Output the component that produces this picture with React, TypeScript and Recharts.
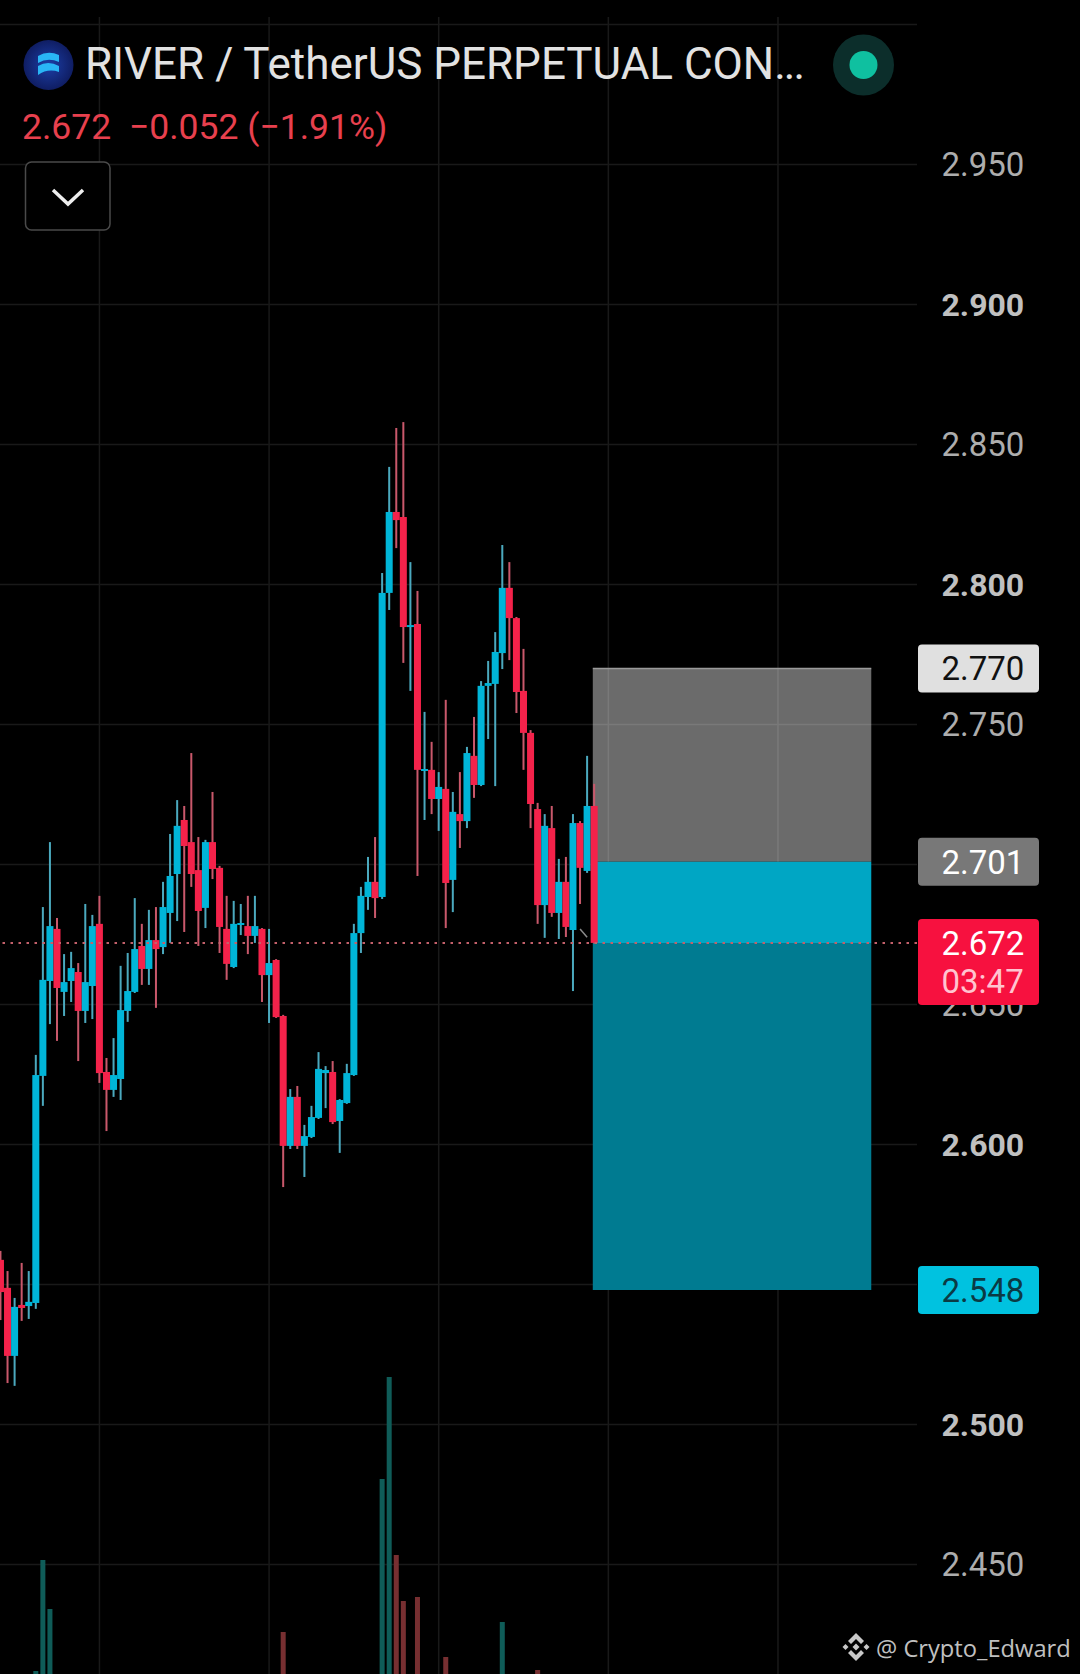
import { Bar, CartesianGrid, ComposedChart, ReferenceArea, ReferenceLine, XAxis, YAxis } from "recharts";

// candle prices, oldest first
const opens = [
  2.5588, 2.5488, 2.5245, 2.5427, 2.5423, 2.5434, 2.6245, 2.6584, 2.6770, 2.6545,
  2.6584, 2.6616, 2.6477, 2.6566, 2.6788, 2.6259, 2.6195, 2.6234, 2.6477, 2.6545,
  2.6709, 2.6627, 2.6730, 2.6705, 2.6827, 2.6966, 2.7159, 2.7080, 2.6980, 2.6845,
  2.7080, 2.6988, 2.6770, 2.6634, 2.6784, 2.6780, 2.6745, 2.6770, 2.6605, 2.6659,
  2.6459, 2.5995, 2.6170, 2.5995, 2.6027, 2.6095, 2.6255, 2.6259, 2.6084, 2.6148,
  2.6248, 2.6755, 2.6884, 2.6938, 2.6884, 2.7970, 2.8259, 2.8241, 2.7848, 2.7859,
  2.7334, 2.7338, 2.7234, 2.7270, 2.6945, 2.7180, 2.7155, 2.7388, 2.7284, 2.7638,
  2.7645, 2.7755, 2.7988, 2.7880, 2.7620, 2.7470, 2.7198, 2.6855, 2.7130, 2.6827,
  2.6938, 2.6766, 2.7148, 2.6977, 2.7209,
];
const closes = [
  2.5473, 2.5245, 2.5420, 2.5416, 2.5438, 2.6248, 2.6588, 2.6780, 2.6559, 2.6580,
  2.6630, 2.6477, 2.6580, 2.6780, 2.6255, 2.6195, 2.6248, 2.6480, 2.6548, 2.6698,
  2.6627, 2.6730, 2.6698, 2.6848, 2.6959, 2.7138, 2.7066, 2.6966, 2.6834, 2.7080,
  2.6984, 2.6777, 2.6645, 2.6788, 2.6791, 2.6745, 2.6780, 2.6605, 2.6648, 2.6455,
  2.5995, 2.6170, 2.5995, 2.6030, 2.6098, 2.6270, 2.6266, 2.6080, 2.6159, 2.6255,
  2.6755, 2.6888, 2.6938, 2.6880, 2.7970, 2.8259, 2.8230, 2.7848, 2.7855, 2.7338,
  2.7341, 2.7234, 2.7277, 2.6934, 2.7188, 2.7155, 2.7398, 2.7284, 2.7638, 2.7648,
  2.7759, 2.7988, 2.7880, 2.7616, 2.7470, 2.7216, 2.6855, 2.7138, 2.6827, 2.6938,
  2.6777, 2.7148, 2.6988, 2.7209, 2.6720,
];
const highs = [
  2.5620, 2.5548, 2.5452, 2.5577, 2.5548, 2.6320, 2.6848, 2.7080, 2.6809, 2.6680,
  2.6688, 2.6648, 2.6859, 2.6820, 2.6888, 2.6309, 2.6380, 2.6638, 2.6684, 2.6880,
  2.6788, 2.6838, 2.6848, 2.6938, 2.7109, 2.7230, 2.7209, 2.7398, 2.7098, 2.7088,
  2.7259, 2.6995, 2.6888, 2.6870, 2.6859, 2.6888, 2.6888, 2.6773, 2.6770, 2.6662,
  2.6463, 2.6198, 2.6209, 2.6070, 2.6138, 2.6330, 2.6280, 2.6298, 2.6162, 2.6288,
  2.6788, 2.6920, 2.7027, 2.7098, 2.8041, 2.8420, 2.8559, 2.8580, 2.8080, 2.7977,
  2.7545, 2.7438, 2.7330, 2.7588, 2.7259, 2.7330, 2.7420, 2.7527, 2.7655, 2.7727,
  2.7830, 2.8141, 2.8080, 2.7884, 2.7770, 2.7480, 2.7220, 2.7180, 2.7209, 2.7020,
  2.7027, 2.7180, 2.7155, 2.7388, 2.7288,
];
const lows = [
  2.5373, 2.5148, 2.5138, 2.5370, 2.5377, 2.5413, 2.6138, 2.6430, 2.6370, 2.6459,
  2.6509, 2.6298, 2.6434, 2.6448, 2.6220, 2.6048, 2.6170, 2.6159, 2.6438, 2.6541,
  2.6570, 2.6570, 2.6488, 2.6680, 2.6720, 2.6798, 2.6759, 2.6920, 2.6709, 2.6773,
  2.6948, 2.6684, 2.6588, 2.6630, 2.6748, 2.6680, 2.6720, 2.6509, 2.6434, 2.6452,
  2.5848, 2.5984, 2.5984, 2.5884, 2.6023, 2.6091, 2.6130, 2.6073, 2.5970, 2.6145,
  2.6245, 2.6684, 2.6838, 2.6809, 2.6877, 2.7909, 2.8130, 2.7720, 2.7620, 2.6959,
  2.7159, 2.7180, 2.7120, 2.6773, 2.6830, 2.7059, 2.7130, 2.7238, 2.7280, 2.7448,
  2.7280, 2.7698, 2.7730, 2.7541, 2.7338, 2.7130, 2.6788, 2.6738, 2.6813, 2.6734,
  2.6741, 2.6548, 2.6859, 2.6970, 2.6718,
];
// only the visible tops of the volume bars can be read
const volumes: Record<number, number> = {
  5: 3, 6: 114, 7: 65, 40: 42, 54: 195, 55: 297, 56: 119, 57: 73, 59: 77, 63: 17, 71: 52, 76: 4,
};

const priceTicks = [3, 2.95, 2.9, 2.85, 2.8, 2.75, 2.7, 2.65, 2.6, 2.55, 2.5, 2.45];
const boldTicks = [2.9, 2.8, 2.6, 2.5];
// 2.700 and 2.550 sit fully behind the price tags
const hiddenTickLabels = [3, 2.7, 2.55];
const timeGrid = [14, 38, 62, 86, 110];
const priceDomain = [2.41089, 3.00875];
const timeDomain = [-0.07, 129.67];

const lastPrice = 2.672;
const stopPrice = 2.77;
const entryPrice = 2.701;
const targetPrice = 2.548;
const toolStart = 83.8;
const toolEnd = 123.2;

const candles = opens.map((open, i) => ({
  i,
  open,
  close: closes[i],
  high: highs[i],
  low: lows[i],
  volume: volumes[i] ?? 0,
}));

const UP = "#00b5d8";
const DOWN = "#f4224a";
const FONT = "Roboto, sans-serif";

function Candle(props: any) {
  const { x, y, width, height, payload } = props;
  const perUnit = height / (payload.high - payload.low);
  const up = payload.close >= payload.open;
  const bodyTop = y + (payload.high - Math.max(payload.open, payload.close)) * perUnit;
  const bodyBottom = y + (payload.high - Math.min(payload.open, payload.close)) * perUnit;
  const cx = x + width / 2;
  return (
    <g>
      <rect x={cx - 1} y={y} width={2} height={height} fill={up ? "#4ba9be" : "#c9586b"} />
      <rect x={cx - 3.5} y={bodyTop} width={7} height={Math.max(bodyBottom - bodyTop, 1.5)} fill={up ? UP : DOWN} />
    </g>
  );
}

function VolumeBar(props: any) {
  const { x, y, width, height, payload } = props;
  if (!payload.volume) return null;
  const up = payload.close >= payload.open;
  return <rect x={x} y={y} width={width} height={height} fill={up ? "#0f5c58" : "#772f31"} />;
}

function PriceTick(props: any) {
  const { x, y, payload } = props;
  if (hiddenTickLabels.includes(payload.value)) return null;
  const bold = boldTicks.includes(payload.value);
  return (
    <text x={x + 24.5} y={y + 11.9} fontFamily={FONT} fontSize={bold ? 32 : 33} fontWeight={bold ? 700 : 400} fill={bold ? "#c0c0c0" : "#adadad"}>
      {payload.value.toFixed(3)}
    </text>
  );
}

function PriceTag(props: any) {
  const { x1, x2, y2, fill, color, label, below, belowColor } = props;
  const right = Math.max(x1, x2);
  const bottom = below ? 62 : 24;
  return (
    <g>
      <rect x={right + 1} y={y2 - 24} width={121} height={24 + bottom} rx={4} fill={fill} />
      <text x={right + 24.5} y={y2 + 11.9} fontFamily={FONT} fontSize={33} fill={color}>{label}</text>
      {below && (
        <text x={right + 24.5} y={y2 + 49.9} fontFamily={FONT} fontSize={33} fill={belowColor}>{below}</text>
      )}
    </g>
  );
}

function Header() {
  return (
    <svg width={1080} height={1674} style={{ position: "absolute", left: 0, top: 0, pointerEvents: "none" }}>
      <defs>
        <radialGradient id="riverBg" cx="50%" cy="50%" r="55%">
          <stop offset="0%" stopColor="#1c3fa8" />
          <stop offset="100%" stopColor="#0e1a5c" />
        </radialGradient>
      </defs>
      <rect x={0} y={0} width={1080} height={17} fill="#000" />
      <circle cx={48.5} cy={65} r={25} fill="url(#riverBg)" />
      <path d="M38 56 Q48 50 59 55 L59 62 Q48 57 38 63 Z" fill="#29b6f6" />
      <path d="M38 66 Q48 60 59 66 L59 72 Q48 68 38 75 Z" fill="#29b6f6" />
      <text x={85} y={79} fontFamily={FONT} fontSize={44} fill="#e2e2e2">
        RIVER / TetherUS PERPETUAL CON<tspan letterSpacing={-2}>...</tspan>
      </text>
      <circle cx={863.5} cy={65} r={30.5} fill="#0c2e2b" />
      <circle cx={863.5} cy={65} r={14} fill="#0fc0a0" />
      <text x={22} y={139} fontFamily={FONT} fontSize={35.5} fill="#e8404e">2.672</text>
      <text x={129} y={139} fontFamily={FONT} fontSize={35.5} fill="#e8404e">−0.052 (−1.91%)</text>
      <rect x={25.5} y={162} width={84.5} height={68} rx={6} fill="#000" stroke="#4a4a4a" strokeWidth={1.5} />
      <polyline points="53,190 68,204 83,190" fill="none" stroke="#eee" strokeWidth={3.5} />
      <g fill="#c9c9c9" transform="translate(856 1647)">
        <path d="M0 -14 L8 -6 L5 -3 L0 -8 L-5 -3 L-8 -6 Z" />
        <path d="M0 14 L8 6 L5 3 L0 8 L-5 3 L-8 6 Z" />
        <path d="M0 -3.5 L3.5 0 L0 3.5 L-3.5 0 Z" />
        <path d="M-10.5 -3 L-7.5 0 L-10.5 3 L-13.5 0 Z" />
        <path d="M10.5 -3 L13.5 0 L10.5 3 L7.5 0 Z" />
      </g>
      <text x={876} y={1657} fontFamily="'Open Sans', sans-serif" fontSize={23.7} fill="#c0c0c0">@ Crypto_Edward</text>
    </svg>
  );
}

// second chart on the same scales, so the tags can lie over the axis labels
function PriceTags() {
  return (
    <div style={{ position: "absolute", left: 0, top: 0 }}>
      <ComposedChart width={1080} height={1674} data={candles} margin={{ top: 0, right: 0, bottom: 0, left: 0 }}>
        <XAxis xAxisId="time" dataKey="i" type="number" domain={timeDomain} allowDataOverflow hide />
        <YAxis yAxisId="price" orientation="right" width={163} domain={priceDomain} allowDataOverflow axisLine={false} tickLine={false} tick={false} />
        <ReferenceLine xAxisId="time" yAxisId="price" y={stopPrice} stroke="none"
          shape={(p: any) => <PriceTag {...p} fill="#e0e0e0" color="#111" label="2.770" />} />
        <ReferenceLine xAxisId="time" yAxisId="price" y={entryPrice} stroke="none"
          shape={(p: any) => <PriceTag {...p} fill="#787878" color="#fff" label="2.701" />} />
        <ReferenceLine xAxisId="time" yAxisId="price" y={targetPrice} stroke="none"
          shape={(p: any) => <PriceTag {...p} fill="#00c2e0" color="#0b3a44" label="2.548" />} />
        <ReferenceLine xAxisId="time" yAxisId="price" y={lastPrice} stroke="none"
          shape={(p: any) => <PriceTag {...p} fill="#f7113f" color="#fff" label="2.672" below="03:47" belowColor="#ffc4d0" />} />
      </ComposedChart>
    </div>
  );
}

export default function App() {
  return (
    <div style={{ position: "absolute", left: 0, top: 0, width: 1080, height: 1674, background: "#000", overflow: "hidden" }}>
      <ComposedChart width={1080} height={1674} data={candles} margin={{ top: 0, right: 0, bottom: 0, left: 0 }}>
        <XAxis xAxisId="time" dataKey="i" type="number" domain={timeDomain} ticks={timeGrid} allowDataOverflow hide />
        <XAxis xAxisId="vol" dataKey="i" type="number" domain={timeDomain} allowDataOverflow hide />
        <YAxis
          yAxisId="price"
          orientation="right"
          width={163}
          domain={priceDomain}
          allowDataOverflow
          ticks={priceTicks}
          interval={0}
          axisLine={false}
          tickLine={false}
          tickSize={0}
          tickMargin={0}
          tick={<PriceTick />}
        />
        <YAxis yAxisId="vol" domain={[0, 1674]} hide />
        <CartesianGrid xAxisId="time" yAxisId="price" stroke="#191919" strokeWidth={1.5} syncWithTicks />
        <ReferenceArea xAxisId="time" yAxisId="price" x1={toolStart} x2={toolEnd} y1={stopPrice} y2={entryPrice} fill="#ffffff" fillOpacity={0.42} stroke="none" />
        <ReferenceArea xAxisId="time" yAxisId="price" x1={toolStart} x2={toolEnd} y1={entryPrice} y2={lastPrice} fill="#00a6c4" fillOpacity={1} stroke="none" />
        <ReferenceArea xAxisId="time" yAxisId="price" x1={toolStart} x2={toolEnd} y1={lastPrice} y2={targetPrice} fill="#007b91" fillOpacity={1} stroke="none" />
        <ReferenceLine
          xAxisId="time"
          yAxisId="price"
          segment={[{ x: toolStart, y: stopPrice }, { x: toolEnd, y: stopPrice }]}
          stroke="#9a9a9a"
          strokeWidth={1.5}
        />
        <ReferenceLine xAxisId="time" yAxisId="price" y={lastPrice} stroke="#c4606a" strokeWidth={2} strokeDasharray="2.5 5.5" />
        <ReferenceLine
          xAxisId="time"
          yAxisId="price"
          segment={[{ x: 82, y: 2.677 }, { x: 83, y: 2.674 }]}
          stroke="#8a8a8a"
          strokeWidth={1.5}
        />
        <Bar xAxisId="vol" yAxisId="vol" dataKey="volume" barSize={5} shape={<VolumeBar />} isAnimationActive={false} />
        <Bar
          xAxisId="time"
          yAxisId="price"
          dataKey={(d: any) => [d.low, d.high]}
          barSize={7}
          shape={<Candle />}
          isAnimationActive={false}
        />
      </ComposedChart>
      <PriceTags />
      <Header />
    </div>
  );
}
